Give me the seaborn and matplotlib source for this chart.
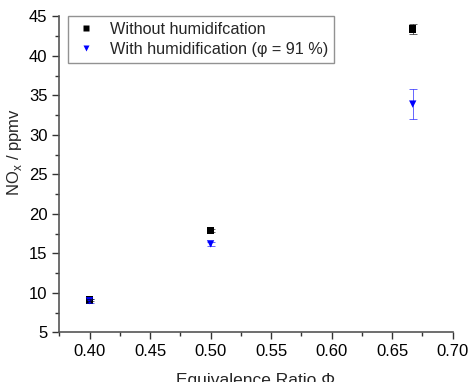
import matplotlib
matplotlib.use('Agg')
import matplotlib.pyplot as plt
import pandas as pd
import seaborn as sns
from matplotlib.ticker import MultipleLocator, FormatStrFormatter

# Daten
phi = [0.40, 0.50, 0.667]
nox_dry = [9.1, 17.9, 43.4]
err_dry = [0.15, 0.2, 0.65]
nox_hum = [9.0, 16.2, 33.9]
err_hum = [0.25, 0.3, 1.95]

lbl_dry = 'Without humidifcation'
lbl_hum = 'With humidification (\u03c6 = 91 %)'

df = pd.DataFrame({
    'phi': phi * 2,
    'nox': nox_dry + nox_hum,
    'err': err_dry + err_hum,
    'serie': [lbl_dry] * 3 + [lbl_hum] * 3,
})

sns.set_style('ticks')
plt.rcParams['font.family'] = ['Liberation Sans', 'DejaVu Sans']
plt.rcParams['font.size'] = 9

fig, ax = plt.subplots(figsize=(4.74, 3.82), dpi=100)
fig.subplots_adjust(left=0.125, right=0.955, top=0.957, bottom=0.13)

farben = {lbl_dry: 'black', lbl_hum: '#0000ff'}
marker = {lbl_dry: 's', lbl_hum: 'v'}

# Fehlerbalken
for s, g in df.groupby('serie'):
    ax.errorbar(g['phi'], g['nox'], yerr=g['err'], fmt='none',
                ecolor=farben[s], elinewidth=0.6, capsize=3, capthick=0.6, alpha=0.7)

sns.scatterplot(data=df, x='phi', y='nox', hue='serie', style='serie',
                palette=farben, markers=marker, s=28, edgecolor='none',
                ax=ax, hue_order=[lbl_dry, lbl_hum], style_order=[lbl_dry, lbl_hum])

ax.set_xlim(0.375, 0.70)
ax.set_ylim(5, 45)
ax.xaxis.set_major_locator(MultipleLocator(0.05))
ax.xaxis.set_minor_locator(MultipleLocator(0.025))
ax.yaxis.set_major_locator(MultipleLocator(5))
ax.yaxis.set_minor_locator(MultipleLocator(2.5))
ax.xaxis.set_major_formatter(FormatStrFormatter('%.2f'))
ax.tick_params(which='both', direction='out', colors='#333333', labelcolor='black', labelsize=12)
ax.tick_params(which='major', length=5, width=1)
ax.tick_params(which='minor', length=3, width=1)

sns.despine(ax=ax)
for sp in ['left', 'bottom']:
    ax.spines[sp].set_color('#555555')
    ax.spines[sp].set_linewidth(1.2)

ax.set_xlabel('Equivalence Ratio \u03a6', fontsize=12.5, labelpad=10)
ax.set_ylabel('NO$_\\mathregular{x}$ / ppmv', fontsize=12, labelpad=4)
ax.yaxis.set_label_coords(-0.09, 0.57)

leg = ax.legend(loc='upper left', bbox_to_anchor=(0.023, 1.0), borderaxespad=0,
                fontsize=11.7, frameon=True, fancybox=False, edgecolor='#777777',
                handlelength=1.5, handletextpad=0.7, borderpad=0.35,
                labelspacing=0.3, markerscale=0.85)
leg.get_frame().set_linewidth(1.0)

fig.savefig('out.png', dpi=100)
